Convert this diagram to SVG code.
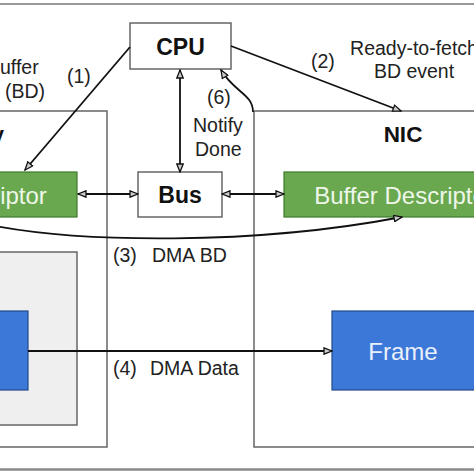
<svg xmlns="http://www.w3.org/2000/svg" width="474" height="474" viewBox="0 0 474 474">
<style>
.frame{fill:none;stroke:#666;stroke-width:1.5}
.plain{fill:#fff;stroke:#666;stroke-width:1.5}
.green{fill:#6aa84f;stroke:#3f7a2a;stroke-width:1.2}
.blue{fill:#3c78d8;stroke:#22488a;stroke-width:1.2}
.grey{fill:#efefef;stroke:#666;stroke-width:1.5}
.lbl{font-family:"Liberation Sans",Arial,sans-serif;font-size:19.5px;fill:#222}
.bold{font-family:"Liberation Sans",Arial,sans-serif;font-weight:bold;fill:#111}
.inner{font-family:"Liberation Sans",Arial,sans-serif;font-size:24px;text-anchor:middle}
.conn{fill:none;stroke:#111;stroke-width:1.8}
</style>
<defs>
<marker id="arr" viewBox="0 0 10 10" refX="10" refY="5" markerWidth="10" markerHeight="8" markerUnits="userSpaceOnUse" orient="auto-start-reverse">
<path d="M0,1 L10,5 L0,9 z" fill="#ccc" stroke="#111" stroke-width="1.6"/>
</marker>
</defs>
<rect width="474" height="474" fill="#fff"/>
<line x1="0" y1="4" x2="474" y2="4" stroke="#777" stroke-width="1.5"/>
<line x1="0" y1="469.5" x2="474" y2="469.5" stroke="#888" stroke-width="2.5"/>

<g id="host">
<rect class="frame" x="-10" y="111" width="117" height="336"/>
<text class="bold" x="4" y="142" font-size="22" text-anchor="end">Memory</text>
</g>
<g id="host-buffer-region">
<rect class="grey" x="-10" y="252" width="87" height="173"/>
</g>
<g id="host-data">
<rect class="blue" x="-10" y="311" width="38" height="79"/>
</g>
<g id="host-bd">
<rect class="green" x="-163" y="172" width="240" height="45"/>
<text class="inner" x="-43" y="204" fill="#eef6ea">Buffer Descriptor</text>
</g>
<g id="nic">
<rect class="frame" x="254" y="111" width="236" height="336"/>
<text class="bold" x="403" y="142" font-size="22.5" text-anchor="middle">NIC</text>
</g>
<g id="nic-bd">
<rect class="green" x="284" y="172" width="240" height="45"/>
<text class="inner" x="404" y="204" fill="#eef6ea">Buffer Descriptor</text>
</g>
<g id="frame">
<rect class="blue" x="332" y="311" width="150" height="79"/>
<text class="inner" x="403" y="360" fill="#eaf0fb">Frame</text>
</g>
<g id="cpu">
<rect class="plain" x="130" y="23" width="101" height="46"/>
<text class="bold" x="180.5" y="55" font-size="23" text-anchor="middle">CPU</text>
</g>
<g id="bus">
<rect class="plain" x="138" y="172" width="84" height="45"/>
<text class="bold" x="180" y="203" font-size="23" text-anchor="middle">Bus</text>
</g>

<g id="connectors">
<path class="conn" d="M130,47 L25,170" marker-end="url(#arr)"/>
<path class="conn" d="M231,46 L401,111" marker-end="url(#arr)"/>
<path class="conn" d="M180,70 L180,172" marker-start="url(#arr)" marker-end="url(#arr)"/>
<path class="conn" d="M253,112 C253,94 234,92 221,70" marker-end="url(#arr)"/>
<path class="conn" d="M78,194 L138,194" marker-start="url(#arr)" marker-end="url(#arr)"/>
<path class="conn" d="M222,194 L284,194" marker-start="url(#arr)" marker-end="url(#arr)"/>
<path class="conn" d="M-5,226 C80,242 250,246 402,217" marker-end="url(#arr)"/>
<path class="conn" d="M28,351 L332,351" marker-end="url(#arr)"/>
</g>

<g id="labels">
<text class="lbl" x="0" y="74">uffer</text>
<text class="lbl" x="5" y="98">(BD)</text>
<text class="lbl" x="67" y="83">(1)</text>
<text class="lbl" x="311" y="68">(2)</text>
<text class="lbl" x="414" y="55" text-anchor="middle">Ready-to-fetch</text>
<text class="lbl" x="414" y="78" text-anchor="middle">BD event</text>
<text class="lbl" x="207" y="104">(6)</text>
<text class="lbl" x="193" y="132">Notify</text>
<text class="lbl" x="195" y="156">Done</text>
<text class="lbl" x="113" y="262">(3)</text>
<text class="lbl" x="152" y="262">DMA BD</text>
<text class="lbl" x="113" y="375">(4)</text>
<text class="lbl" x="150" y="375">DMA Data</text>
</g>
</svg>
